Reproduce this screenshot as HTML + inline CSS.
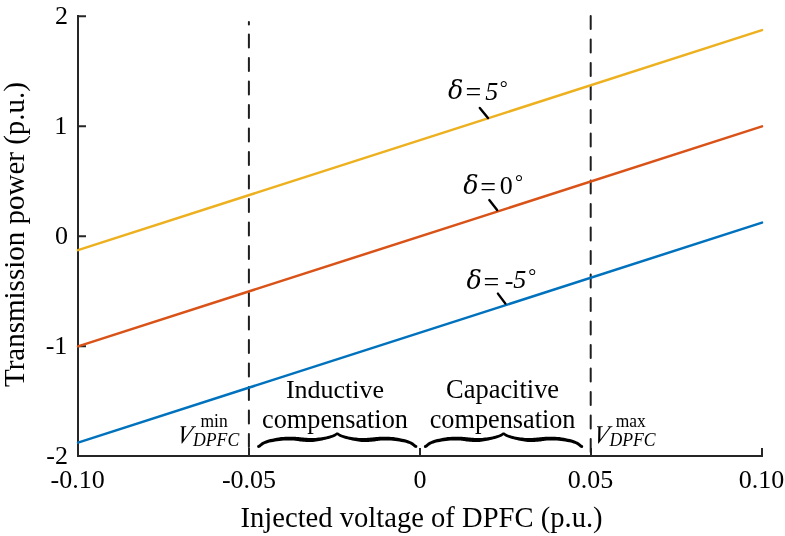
<!DOCTYPE html>
<html><head><meta charset="utf-8"><style>
html,body{margin:0;padding:0;background:#fff;}
svg{display:block;}
text{font-family:"Liberation Serif","Times New Roman",serif;fill:#000;}
.t{font-size:26px;}
.l{font-size:28.8px;}
.i{font-style:italic;}
.dl{font-family:"DejaVu Serif",serif;font-style:italic;font-size:25.5px;}
.eq{font-size:28px;}
.dg{font-size:20px;}
</style></head><body>
<svg width="785" height="536" viewBox="0 0 785 536">
<rect width="785" height="536" fill="#fff"/>
<g stroke="#262626" stroke-width="2" fill="none">
<path d="M78 15V456H763"/>
<path d="M78 16.2H86M78 126.2H86M78 236.2H86M78 346.2H86"/>
<path d="M249 456V448M420 456V448M591 456V448M762 456V448"/>
</g>
<g stroke="#1e1e1e" stroke-width="2" fill="none" stroke-linecap="round">
<path d="M248.9 22.0V24.4M248.9 34.4V47.6M248.9 57.9V71.1M248.9 81.4V94.6M248.9 104.9V118.1M248.9 128.4V141.6M248.9 151.9V165.1M248.9 175.4V188.6M248.9 198.9V212.1M248.9 222.4V235.6M248.9 245.9V259.1M248.9 269.4V282.6M248.9 292.9V306.1M248.9 316.4V329.6M248.9 339.9V353.1M248.9 363.4V376.6M248.9 386.9V400.1M248.9 410.4V423.6M248.9 433.9V447.1"/>
<path d="M590.7 16.1V29.1M590.7 39.6V52.6M590.7 63.1V76.1M590.7 86.6V99.6M590.7 110.1V123.1M590.7 133.6V146.6M590.7 157.1V170.1M590.7 180.6V193.6M590.7 204.1V217.1M590.7 227.6V240.6M590.7 251.1V264.1M590.7 274.6V287.6M590.7 298.1V311.1M590.7 321.6V334.6M590.7 345.1V358.1M590.7 368.6V381.6M590.7 392.1V405.1M590.7 415.6V428.6M590.7 439.1V452.1"/>
</g>
<g stroke-width="2.5" fill="none" stroke-linecap="round" transform="translate(0 0.4)">
<line x1="78.0" y1="249.75" x2="762.0" y2="29.75" stroke="#EDB120"/>
<line x1="78.0" y1="346.00" x2="762.0" y2="126.00" stroke="#D95319"/>
<line x1="78.0" y1="442.25" x2="762.0" y2="222.25" stroke="#0072BD"/>
</g>
<g class="t" text-anchor="end">
<text x="68" y="24.2">2</text>
<text x="67.3" y="134.2">1</text>
<text x="68" y="244.2">0</text>
<text x="67.3" y="354.2">-1</text>
<text x="68" y="464.2">-2</text>
</g>
<g class="t" text-anchor="middle">
<text x="77.6" y="488">-0.10</text>
<text x="249" y="488">-0.05</text>
<text x="420" y="488">0</text>
<text x="590.4" y="488.2">0.05</text>
<text x="761.6" y="488">0.10</text>
</g>
<text class="l" x="421.6" y="527" style="font-size:28.6px" text-anchor="middle">Injected voltage of DPFC (p.u.)</text>
<text class="l" style="font-size:29px" transform="translate(24 234.5) rotate(-90)" text-anchor="middle">Transmission power (p.u.)</text>
<g class="t" text-anchor="middle">
<text x="335" y="397.5">Inductive</text>
<text x="335" y="428" style="font-size:26.25px">compensation</text>
<text x="502.6" y="397.5" style="font-size:26.45px">Capacitive</text>
<text x="502.6" y="428" style="font-size:26.25px">compensation</text>
</g>
<path d="M259.3 447.8L260.0 447.4L260.7 446.9L261.2 446.5L261.7 446.1L262.2 445.7L262.6 445.4L263.1 445.0L263.6 444.7L264.1 444.4L264.8 444.1L265.7 443.7L266.7 443.4L268.0 443.0L269.5 442.6L271.2 442.2L273.1 441.9L275.1 441.5L277.2 441.2L279.3 440.9L281.5 440.7L283.6 440.6L285.7 440.5L287.7 440.4L289.5 440.4L291.2 440.4L292.7 440.5L294.0 440.6L295.1 440.7L296.1 440.8L297.0 440.9L298.0 441.1L299.0 441.2L300.2 441.4L301.5 441.5L303.0 441.7L304.6 441.8L306.2 441.9L307.9 442.0L309.6 442.1L311.3 442.0L312.9 441.9L314.5 441.7L316.0 441.5L317.6 441.3L319.1 441.0L320.6 440.7L322.2 440.4L323.8 440.1L325.4 439.7L326.9 439.3L328.5 438.9L330.0 438.4L331.4 438.0L332.8 437.5L334.1 437.0L335.3 436.4L336.3 435.8L337.3 435.1L338.1 434.5L336.4 434.5L337.2 435.1L338.2 435.8L339.2 436.4L340.4 437.0L341.7 437.5L343.1 438.0L344.5 438.4L346.0 438.9L347.6 439.3L349.1 439.7L350.7 440.1L352.3 440.4L353.9 440.7L355.4 441.0L356.9 441.3L358.5 441.5L360.0 441.7L361.6 441.9L363.2 442.0L364.9 442.1L366.6 442.0L368.3 441.9L369.9 441.8L371.5 441.7L373.0 441.5L374.3 441.4L375.5 441.2L376.5 441.1L377.5 440.9L378.4 440.8L379.4 440.7L380.5 440.6L381.8 440.5L383.3 440.4L385.0 440.4L386.8 440.4L388.8 440.5L390.9 440.6L393.0 440.7L395.2 440.9L397.3 441.2L399.4 441.5L401.4 441.9L403.3 442.2L405.0 442.6L406.5 443.0L407.8 443.4L408.8 443.7L409.7 444.1L410.4 444.4L410.9 444.7L411.4 445.0L411.9 445.4L412.3 445.7L412.8 446.1L413.3 446.5L413.8 446.9L414.5 447.4L415.2 447.8L416.8 445.4L416.1 444.9L415.5 444.6L415.0 444.2L414.6 443.8L414.1 443.4L413.6 443.1L413.1 442.6L412.5 442.2L411.7 441.8L410.9 441.4L409.9 441.0L408.7 440.5L407.4 440.1L405.8 439.6L404.0 439.1L402.1 438.7L400.0 438.2L397.8 437.8L395.6 437.4L393.4 437.1L391.2 436.9L389.0 436.8L386.9 436.7L385.0 436.7L383.2 436.7L381.6 436.7L380.3 436.7L379.1 436.8L378.0 436.9L377.0 437.0L376.0 437.1L375.0 437.2L373.9 437.3L372.6 437.4L371.1 437.6L369.6 437.7L368.0 437.8L366.4 437.9L364.9 437.9L363.3 437.9L361.8 438.0L360.3 437.9L358.9 437.9L357.4 437.8L355.9 437.6L354.4 437.4L352.9 437.2L351.3 437.0L349.8 436.7L348.2 436.4L346.7 436.1L345.3 435.7L343.9 435.3L342.6 434.9L341.5 434.5L340.4 434.0L339.5 433.6L338.7 433.1L338.1 432.5L336.4 432.5L335.8 433.1L335.0 433.6L334.1 434.0L333.0 434.5L331.9 434.9L330.6 435.3L329.2 435.7L327.8 436.1L326.3 436.4L324.7 436.7L323.2 437.0L321.6 437.2L320.1 437.4L318.6 437.6L317.1 437.8L315.6 437.9L314.2 437.9L312.7 438.0L311.2 437.9L309.6 437.9L308.1 437.9L306.5 437.8L304.9 437.7L303.4 437.6L301.9 437.4L300.6 437.3L299.5 437.2L298.5 437.1L297.5 437.0L296.5 436.9L295.4 436.8L294.2 436.7L292.9 436.7L291.3 436.7L289.5 436.7L287.6 436.7L285.5 436.8L283.3 436.9L281.1 437.1L278.9 437.4L276.7 437.8L274.5 438.2L272.4 438.7L270.5 439.1L268.7 439.6L267.1 440.1L265.8 440.5L264.6 441.0L263.6 441.4L262.8 441.8L262.0 442.2L261.4 442.6L260.9 443.1L260.4 443.4L259.9 443.8L259.5 444.2L259.0 444.6L258.4 444.9L257.7 445.4ZM257.12 446.60a1.38 1.38 0 1 0 2.75 0a1.38 1.38 0 1 0 -2.75 0ZM414.62 446.60a1.38 1.38 0 1 0 2.75 0a1.38 1.38 0 1 0 -2.75 0Z" fill="#000"/>
<path d="M426.1 447.8L426.8 447.4L427.5 446.9L428.0 446.5L428.5 446.1L429.0 445.7L429.4 445.4L429.8 445.0L430.3 444.7L430.9 444.4L431.6 444.1L432.4 443.7L433.5 443.4L434.7 443.0L436.2 442.6L437.9 442.2L439.8 441.9L441.8 441.5L443.9 441.2L446.0 440.9L448.1 440.7L450.2 440.6L452.3 440.5L454.3 440.4L456.1 440.4L457.8 440.4L459.3 440.5L460.6 440.6L461.7 440.7L462.6 440.8L463.6 440.9L464.5 441.1L465.5 441.2L466.7 441.4L468.0 441.5L469.5 441.7L471.1 441.8L472.7 441.9L474.4 442.0L476.1 442.1L477.7 442.0L479.3 441.9L480.9 441.7L482.5 441.5L484.0 441.3L485.5 441.0L487.0 440.7L488.6 440.4L490.2 440.1L491.8 439.7L493.3 439.3L494.8 438.9L496.3 438.4L497.8 438.0L499.1 437.5L500.4 437.0L501.6 436.4L502.7 435.8L503.6 435.1L504.4 434.4L502.7 434.4L503.5 435.1L504.4 435.8L505.5 436.4L506.7 437.0L508.0 437.5L509.3 438.0L510.8 438.4L512.3 438.9L513.8 439.3L515.3 439.7L516.9 440.1L518.5 440.4L520.1 440.7L521.6 441.0L523.1 441.3L524.6 441.5L526.2 441.7L527.8 441.9L529.4 442.0L531.0 442.1L532.7 442.0L534.4 441.9L536.0 441.8L537.6 441.7L539.1 441.5L540.4 441.4L541.6 441.2L542.6 441.1L543.5 440.9L544.5 440.8L545.4 440.7L546.5 440.6L547.8 440.5L549.3 440.4L551.0 440.4L552.8 440.4L554.8 440.5L556.9 440.6L559.0 440.7L561.1 440.9L563.2 441.2L565.3 441.5L567.3 441.9L569.2 442.2L570.9 442.6L572.4 443.0L573.6 443.4L574.7 443.7L575.5 444.1L576.2 444.4L576.8 444.7L577.3 445.0L577.7 445.4L578.1 445.7L578.6 446.1L579.1 446.5L579.6 446.9L580.3 447.4L581.0 447.8L582.6 445.4L581.9 444.9L581.3 444.6L580.9 444.2L580.4 443.8L580.0 443.5L579.5 443.1L578.9 442.6L578.3 442.2L577.6 441.8L576.7 441.4L575.7 441.0L574.6 440.5L573.2 440.1L571.7 439.6L569.9 439.1L568.0 438.7L565.9 438.2L563.8 437.8L561.6 437.4L559.3 437.1L557.1 436.9L555.0 436.8L552.9 436.7L551.0 436.7L549.2 436.7L547.7 436.7L546.3 436.7L545.1 436.8L544.0 436.9L543.1 437.0L542.1 437.1L541.1 437.2L539.9 437.3L538.6 437.4L537.2 437.6L535.7 437.7L534.1 437.8L532.5 437.9L531.0 437.9L529.4 437.9L528.0 438.0L526.5 437.9L525.0 437.9L523.6 437.8L522.1 437.6L520.6 437.4L519.1 437.2L517.5 437.0L516.0 436.7L514.5 436.4L513.0 436.1L511.6 435.7L510.2 435.3L508.9 434.9L507.7 434.5L506.7 434.0L505.8 433.6L505.0 433.1L504.4 432.6L502.7 432.6L502.1 433.1L501.3 433.6L500.4 434.0L499.4 434.5L498.2 434.9L496.9 435.3L495.5 435.7L494.1 436.1L492.6 436.4L491.1 436.7L489.6 437.0L488.0 437.2L486.5 437.4L485.0 437.6L483.5 437.8L482.1 437.9L480.6 437.9L479.1 438.0L477.7 437.9L476.1 437.9L474.6 437.9L473.0 437.8L471.4 437.7L469.9 437.6L468.5 437.4L467.2 437.3L466.0 437.2L465.0 437.1L464.0 437.0L463.1 436.9L462.0 436.8L460.8 436.7L459.4 436.7L457.9 436.7L456.1 436.7L454.2 436.7L452.1 436.8L450.0 436.9L447.8 437.1L445.5 437.4L443.3 437.8L441.2 438.2L439.1 438.7L437.2 439.1L435.4 439.6L433.9 440.1L432.5 440.5L431.4 441.0L430.4 441.4L429.5 441.8L428.8 442.2L428.2 442.6L427.6 443.1L427.1 443.5L426.7 443.8L426.2 444.2L425.8 444.6L425.2 444.9L424.5 445.4ZM423.92 446.60a1.38 1.38 0 1 0 2.75 0a1.38 1.38 0 1 0 -2.75 0ZM580.42 446.60a1.38 1.38 0 1 0 2.75 0a1.38 1.38 0 1 0 -2.75 0Z" fill="#000"/>
<g stroke="#000" stroke-width="2.4" stroke-linecap="round">
<line x1="479.8" y1="107.9" x2="488.0" y2="118.1"/>
<line x1="489.3" y1="200.1" x2="497.1" y2="210.1"/>
<line x1="497.9" y1="293.6" x2="505.4" y2="303.6"/>
</g>
<g class="t">
<text><tspan x="447.9" y="99.3" class="dl">δ</tspan><tspan x="465.5" y="101.2" class="eq">=</tspan><tspan x="485.3" y="99.6" class="i">5</tspan><tspan x="499.8" y="94.6" class="dg">°</tspan></text>
<text><tspan x="463.2" y="193.8" class="dl">δ</tspan><tspan x="480.3" y="195.8" class="eq">=</tspan><tspan x="499.8" y="194.3">0</tspan><tspan x="515.1" y="188.7" class="dg">°</tspan></text>
<text><tspan x="466.5" y="288.7" class="dl">δ</tspan><tspan x="483.6" y="291" class="eq">=</tspan><tspan x="504.7" y="288.6">-</tspan><tspan x="513.2" y="288.4" class="i">5</tspan><tspan x="528.3" y="282.5" class="dg">°</tspan></text>

</g>
<text x="0" y="0" font-size="25.5" class="i" transform="translate(175.6 443.2) skewX(-13) scale(0.93 1)">V</text>
<text x="200.5" y="426.8" font-size="17.5" transform="translate(0 426.8) scale(1 1.08) translate(0 -426.8)">min</text>
<text x="193" y="0" font-size="17.7" class="i" transform="translate(0 446) scale(1 1.035)">DPFC</text>
<text x="0" y="0" font-size="25.5" class="i" transform="translate(591.9 443.2) skewX(-13) scale(0.93 1)">V</text>
<text x="615.7" y="426.8" font-size="17.5" transform="translate(0 426.8) scale(1 1.08) translate(0 -426.8)">max</text>
<text x="609.5" y="0" font-size="17.7" class="i" transform="translate(0 446) scale(1 1.035)">DPFC</text>
</svg>
</body></html>
